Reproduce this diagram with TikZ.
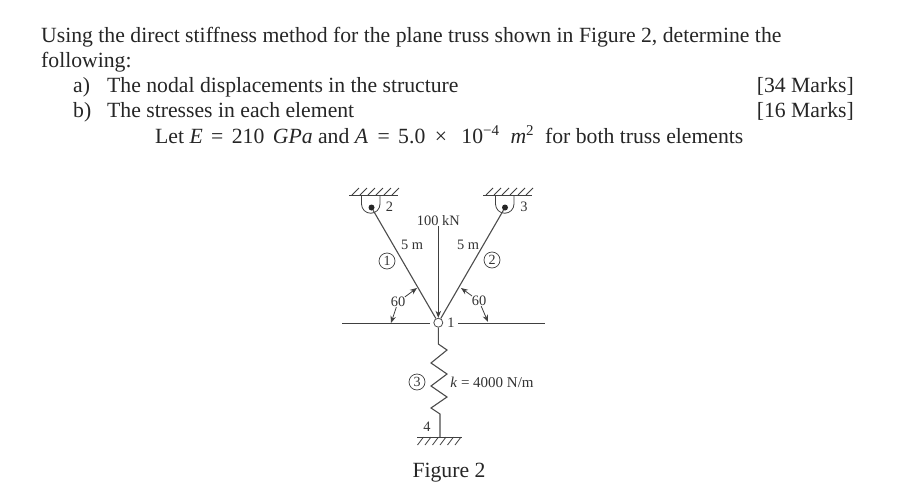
\documentclass[tikz,border=0pt]{standalone}
\usepackage{fontspec}
\setmainfont{Liberation Serif}
\usetikzlibrary{arrows.meta}
\tikzset{
  para/.style={anchor=base west, inner sep=0pt, font=\fontsize{21.7}{24}\selectfont, text=black!85},
  marks/.style={anchor=base east, inner sep=0pt, font=\fontsize{21.7}{24}\selectfont, text=black!85},
  lbl/.style={inner sep=0pt, font=\fontsize{14.4}{16}\selectfont, text=black!80},
  elem/.style={circle, draw=black!75, line width=0.7pt, minimum size=16pt, inner sep=0pt, font=\fontsize{14}{16}\selectfont, text=black!80},
  member/.style={color=black!70, line width=1.1pt},
  thin line/.style={color=black!75, line width=0.8pt},
  load/.style={color=black!75, line width=0.8pt, -{Stealth[length=7pt,width=5.5pt]}},
  pin/.style={circle, fill=black!85, minimum size=6pt, inner sep=0pt},
  hub/.style={circle, draw=black!70, fill=white, line width=0.8pt, minimum size=9pt, inner sep=0pt}
}
\newcommand{\eqsp}{\hspace{3pt}}
\begin{document}
\begin{tikzpicture}[x=1pt, y=-1pt]
\useasboundingbox[fill=white] (0,0) rectangle (903,501);
% question text
\node[para] (line1) at (41,42) {Using the direct stiffness method for the plane truss shown in Figure 2, determine the};
\node[para] (line2) at (41,67) {following:};
\node[para] (parta) at (73,92) {a)};
\node[para] (textA) at (107,92) {The nodal displacements in the structure};
\node[para] (partb) at (73,117) {b)};
\node[para] (textB) at (107,117) {The stresses in each element};
\node[marks] (marksA) at (854,92) {[34 Marks]};
\node[marks] (marksB) at (854,117) {[16 Marks]};
\node[para] (given) at (155,143) {Let \textit{E}\eqsp{} =\eqsp{} 210\hspace{3pt} \textit{GPa} and \textit{A}\hspace{4pt} =\eqsp{} 5.0\hspace{4pt} ×\hspace{9pt} 10\raisebox{8pt}{\fontsize{15}{16}\selectfont −4}\hspace{6pt} \textit{m}\raisebox{8pt}{\fontsize{15}{16}\selectfont 2}\hspace{6pt} for both truss elements};
% supports
\foreach \x/\name in {349/two, 483/three} {
  \coordinate (wall\name L) at (\x,195);
  \coordinate (wall\name R) at (\x+49,195);
  \draw[thin line] (wall\name L) -- (wall\name R);
  \foreach \i in {1,...,6}
    \draw[thin line] (\x+\i*8-5,195) -- (\x+\i*8+2,188);
  \draw[thin line] (\x+12.5,195) -- (\x+12.5,204) arc[start angle=180, end angle=0, radius=9.25] -- (\x+31,195);
}
% nodes
\node[pin] (n2) at (371.5,207.5) {};
\node[pin] (n3) at (505,207.5) {};
\node[hub] (n1) at (438.3,322.7) {};
\coordinate (n4) at (440,437);
\node[lbl] (lab2) at (389.5,207) {2};
\node[lbl] (lab3) at (524,207) {3};
\node[lbl] (lab1) at (451,323) {1};
\node[lbl] (lab4) at (427,427) {4};
% members
\draw[member] (n2) -- (n1);
\draw[member] (n3) -- (n1);
\node[lbl] (force) at (438.3,221) {100 kN};
\draw[load] (force) -- (n1);
\node[lbl] (len1) at (412,245) {5 m};
\node[lbl] (len2) at (468,245) {5 m};
\node[elem] (el1) at (387,261) {1};
\node[elem] (el2) at (492,260) {2};
\node[elem] (el3) at (417,382) {3};
% ground lines and angles
\coordinate (gl1) at (342,323);
\coordinate (gl2) at (430,323);
\coordinate (gr1) at (458,323);
\coordinate (gr2) at (545,323);
\draw[thin line] (gl1) -- (gl2);
\draw[thin line] (gr1) -- (gr2);
\node[lbl] (ang1) at (398,302) {60};
\node[lbl] (ang2) at (479,301) {60};
\coordinate (a1) at (417,288);
\coordinate (a2) at (391,323);
\coordinate (a3) at (461,288);
\coordinate (a4) at (488,322);
\draw[load] (ang1) -- (a1);
\draw[load] (ang1) -- (a2);
\draw[load] (ang2) -- (a3);
\draw[load] (ang2) -- (a4);
% spring
\draw[member] (n1) -- (438.3,344) -- (447,350) -- (431,363) -- (447,374) -- (431,386) -- (447,397) -- (431,408) -- (440,414) -- (n4);
\coordinate (base1) at (417,437);
\coordinate (base2) at (462,437);
\draw[thin line] (base1) -- (base2);
\foreach \i in {1,...,6}
  \draw[thin line] (416+\i*7.5,437) -- (410+\i*7.5,445);
\node[lbl, font=\fontsize{15}{16}\selectfont] (stiff) at (492,382) {\textit{k} = 4000 N/m};
\node[para, anchor=base] (caption) at (449,477) {Figure 2};
\end{tikzpicture}
\end{document}
